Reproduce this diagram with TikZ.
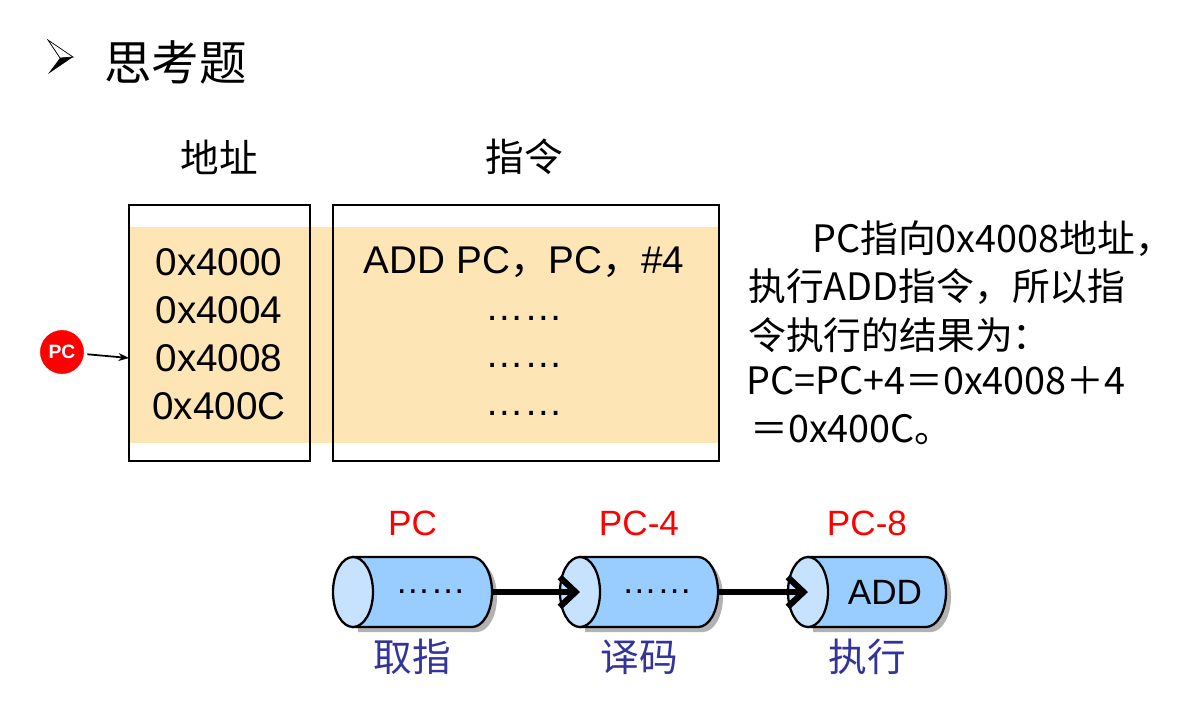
\documentclass[tikz,border=0pt]{standalone}
\usepackage{fontspec}
\setmainfont{Liberation Sans}
\newfontfamily\cjk{Noto Sans CJK SC}
\usetikzlibrary{arrows.meta}
\definecolor{band}{HTML}{FDE5B5}
\definecolor{cylb}{HTML}{99CCFF}
\definecolor{cylc}{HTML}{C6E2FF}
\definecolor{lblue}{HTML}{333399}
\begin{document}
\begin{tikzpicture}[x=0.02cm,y=-0.02cm,
  mem/.style={font=\fontsize{22}{24}\selectfont},
  cn/.style={font=\cjk\fontsize{#1}{#1}\selectfont},
  rt/.style={font=\cjk\fontsize{21.5}{22}\selectfont,anchor=west,inner sep=0},
  red/.style={text=red,font=\fontsize{20}{22}\selectfont},
  stage/.style={text=lblue,font=\cjk\fontsize{22}{24}\selectfont},
  parr/.style={line width=3.5pt,-{Straight Barb[length=9pt,width=17pt,line width=3.5pt]}}]
\useasboundingbox (0,0) rectangle (1189,711);
% bullet + title
\fill (48,74) -- (60,58) -- (73,57) -- cycle;
\draw[line width=0.4pt] (48,40) -- (73,57) -- (60,58) -- cycle;
\node[cn=27,anchor=west] (title) at (98,62) {思考题};
% headers
\node[cn=22] (h1) at (219,157) {地址};
\node[cn=22] (h2) at (524,157) {指令};
% band and boxes
\fill[band] (129,227) rectangle (719,443);
\draw[line width=0.8pt] (129,205) rectangle (310,461);
\draw[line width=0.8pt] (333,205) rectangle (719,461);
\foreach \t/\y/\n in {0x4000/262/a1,0x4004/310/a2,0x4008/358/a3,0x400C/406/a4}
  \node[mem] (\n) at (219,\y) {\t};
\node[mem] (i1) at (524,262) {ADD PC{\cjk ，}PC{\cjk ，}\#4};
\foreach \y/\n in {318/i2,365/i3,413/i4}
  \node[mem] (\n) at (524,\y) {……};
% PC marker
\node[circle,fill=red,draw=white,line width=2pt,inner sep=0pt,
  minimum size=0.95cm,text=white,font=\bfseries\fontsize{11}{11}\selectfont] (pc) at (62,352) {PC};
\draw[line width=1pt,-{Stealth[length=6pt]}] (pc) -- (a3.west -| 129,352);
% right text
\node[rt] (r1) at (812,239) {PC指向0x4008地址，};
\node[rt] (r2) at (748,287) {执行ADD指令，所以指};
\node[rt] (r3) at (748,335) {令执行的结果为：};
\node[rt] (r4) at (746,381) {PC=PC+4＝0x4008＋4};
\node[rt] (r5) at (750,430) {＝0x400C。};
% cylinders
\foreach \xa/\xb/\n/\txt/\top/\bot in {333/492/c1/{……}/PC/取指,560/718/c2/{……}/PC-4/译码,788/946/c3/ADD/PC-8/执行}{
  \fill[gray!60] (\xa+25,562) -- (\xb-15,562) arc[start angle=90,end angle=-90,x radius=20,y radius=-35] -- (\xa+25,632) -- cycle;
  \draw[line width=1.3pt,fill=cylb] (\xa+20,557) -- (\xb-20,557) arc[start angle=90,end angle=-90,x radius=20,y radius=-35] -- (\xa+20,627) -- cycle;
  \draw[line width=1.3pt,fill=cylc] (\xa+20,592) ellipse[x radius=20,y radius=35];
  \coordinate (\n w) at (\xa+20,592);
  \coordinate (\n e) at (\xb,592);
  \node[font=\fontsize{20}{22}\selectfont] (\n t) at ({(\xa+\xb)/2+18},592) {\txt};
  \node[red] (\n p) at ({(\xa+\xb)/2},523) {\top};
  \node[stage] (\n s) at ({(\xa+\xb)/2},657) {\bot};
}
\draw[parr] (c1e) -- (c2w);
\draw[parr] (c2e) -- (c3w);
\end{tikzpicture}
\end{document}
